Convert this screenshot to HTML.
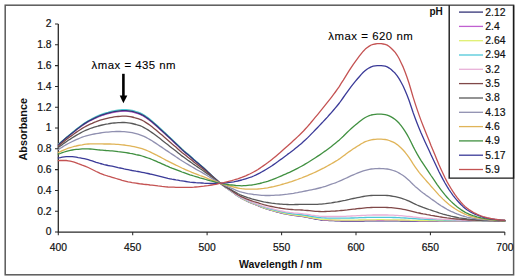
<!DOCTYPE html>
<html><head><meta charset="utf-8"><style>
html,body{margin:0;padding:0;background:#fff;width:519px;height:280px;overflow:hidden}
svg{display:block;font-family:"Liberation Sans",sans-serif}
</style></head><body>
<svg width="519" height="280" viewBox="0 0 519 280" >
<rect width="519" height="280" fill="#fff"/>
<rect x="5.2" y="5.2" width="508.4" height="269.6" fill="none" stroke="#5a5a5a" stroke-width="1.5"/>
<path d="M449.2,5.2 V178.1 H513.6 V5.2" fill="none" stroke="#1a1a1a" stroke-width="1.4"/>
<path d="M58.3,24 V232.1 H504.8" fill="none" stroke="#2a2a2a" stroke-width="1.3"/>
<path d="M55,232.0H58.3M55,211.2H58.3M55,190.4H58.3M55,169.6H58.3M55,148.8H58.3M55,128.0H58.3M55,107.2H58.3M55,86.4H58.3M55,65.6H58.3M55,44.8H58.3M55,24.0H58.3M58.3,232.1V235.3M132.7,232.1V235.3M207.1,232.1V235.3M281.6,232.1V235.3M356.0,232.1V235.3M430.4,232.1V235.3M504.8,232.1V235.3" stroke="#2a2a2a" stroke-width="1.05"/>
<g fill="none" stroke-width="1.3" stroke-linejoin="round" stroke-linecap="round">
<path d="M58.3,145.0L60.3,143.2L62.3,141.4L64.3,139.7L66.3,138.0L68.3,136.3L70.3,134.7L72.3,133.1L74.2,131.6L76.2,130.0L78.2,128.4L80.2,126.9L82.2,125.5L84.2,124.1L86.2,122.9L88.2,121.7L90.2,120.6L92.2,119.6L94.2,118.6L96.2,117.7L98.2,116.8L100.2,116.0L102.2,115.3L104.1,114.6L106.1,114.1L108.1,113.5L110.1,113.0L112.1,112.5L114.1,112.1L116.1,111.8L118.1,111.5L120.1,111.3L122.1,111.1L124.1,111.0L126.1,111.1L128.1,111.2L130.1,111.5L132.1,111.8L134.0,112.3L136.0,112.9L138.0,113.5L140.0,114.2L142.0,115.2L144.0,116.4L146.0,117.7L148.0,119.0L150.0,120.6L152.0,122.2L154.0,123.9L156.0,125.6L158.0,127.4L160.0,129.2L162.0,131.0L163.9,132.8L165.9,134.7L167.9,136.5L169.9,138.3L171.9,140.2L173.9,142.1L175.9,144.0L177.9,145.9L179.9,147.8L181.9,149.6L183.9,151.4L185.9,153.1L187.9,154.8L189.9,156.5L191.9,158.2L193.8,159.8L195.8,161.5L197.8,163.2L199.8,164.9L201.8,166.6L203.8,168.3L205.8,170.2L207.8,172.0L209.8,173.9L211.8,175.7L213.8,177.6L215.8,179.4L217.8,181.2L219.8,182.9" stroke="#E8B0D8"/>
<path d="M58.3,145.0L60.3,143.2L62.3,141.4L64.3,139.7L66.3,138.0L68.3,136.3L70.3,134.7L72.3,133.2L74.2,131.6L76.2,130.1L78.2,128.5L80.2,127.0L82.2,125.6L84.2,124.2L86.2,122.9L88.2,121.8L90.2,120.7L92.2,119.7L94.2,118.7L96.2,117.8L98.2,116.9L100.2,116.1L102.2,115.4L104.1,114.8L106.1,114.2L108.1,113.6L110.1,113.1L112.1,112.7L114.1,112.3L116.1,111.9L118.1,111.6L120.1,111.4L122.1,111.3L124.1,111.2L126.1,111.2L128.1,111.4L130.1,111.6L132.1,111.9L134.0,112.4L136.0,113.1L138.0,113.7L140.0,114.4L142.0,115.3L144.0,116.5L146.0,117.8L148.0,119.2L150.0,120.7L152.0,122.3L154.0,124.0L156.0,125.7L158.0,127.5L160.0,129.3L162.0,131.1L163.9,132.9L165.9,134.8L167.9,136.6L169.9,138.4L171.9,140.3L173.9,142.2L175.9,144.0L177.9,145.9L179.9,147.9L181.9,149.7L183.9,151.5L185.9,153.2L187.9,154.8L189.9,156.5L191.9,158.2L193.8,159.9L195.8,161.6L197.8,163.3L199.8,164.9L201.8,166.6L203.8,168.3L205.8,170.1L207.8,172.0L209.8,173.8L211.8,175.6L213.8,177.5L215.8,179.3L217.8,181.1L219.8,182.9" stroke="#C060D0"/>
<path d="M58.3,144.8L60.3,142.9L62.3,141.1L64.3,139.4L66.3,137.6L68.3,136.0L70.3,134.3L72.3,132.7L74.2,131.1L76.2,129.5L78.2,128.0L80.2,126.4L82.2,124.9L84.2,123.5L86.2,122.2L88.2,121.1L90.2,120.0L92.2,118.9L94.2,117.9L96.2,116.9L98.2,116.1L100.2,115.2L102.2,114.5L104.1,113.8L106.1,113.2L108.1,112.6L110.1,112.1L112.1,111.6L114.1,111.2L116.1,110.8L118.1,110.5L120.1,110.3L122.1,110.1L124.1,110.0L126.1,110.1L128.1,110.2L130.1,110.5L132.1,110.8L134.0,111.3L136.0,111.9L138.0,112.5L140.0,113.3L142.0,114.2L144.0,115.4L146.0,116.7L148.0,118.1L150.0,119.7L152.0,121.3L154.0,123.0L156.0,124.8L158.0,126.6L160.0,128.4L162.0,130.3L163.9,132.1L165.9,133.9L167.9,135.8L169.9,137.6L171.9,139.5L173.9,141.4L175.9,143.3L177.9,145.3L179.9,147.2L181.9,149.1L183.9,150.9L185.9,152.6L187.9,154.3L189.9,156.0L191.9,157.7L193.8,159.5L195.8,161.2L197.8,162.9L199.8,164.6L201.8,166.3L203.8,168.1L205.8,169.9L207.8,171.8L209.8,173.7L211.8,175.5L213.8,177.4L215.8,179.3L217.8,181.1L219.8,182.9" stroke="#E0F070"/>
<path d="M58.3,144.7L60.3,142.8L62.3,141.0L64.3,139.2L66.3,137.5L68.3,135.8L70.3,134.2L72.3,132.5L74.2,130.9L76.2,129.3L78.2,127.7L80.2,126.2L82.2,124.7L84.2,123.3L86.2,122.0L88.2,120.8L90.2,119.7L92.2,118.6L94.2,117.6L96.2,116.6L98.2,115.7L100.2,114.9L102.2,114.1L104.1,113.4L106.1,112.8L108.1,112.3L110.1,111.7L112.1,111.2L114.1,110.8L116.1,110.4L118.1,110.1L120.1,109.9L122.1,109.7L124.1,109.6L126.1,109.7L128.1,109.8L130.1,110.1L132.1,110.4L134.0,110.9L136.0,111.5L138.0,112.1L140.0,112.8L142.0,113.8L144.0,115.0L146.0,116.3L148.0,117.7L150.0,119.3L152.0,120.9L154.0,122.7L156.0,124.4L158.0,126.2L160.0,128.1L162.0,129.9L163.9,131.8L165.9,133.6L167.9,135.5L169.9,137.4L171.9,139.3L173.9,141.2L175.9,143.1L177.9,145.0L179.9,147.0L181.9,148.9L183.9,150.7L185.9,152.4L187.9,154.1L189.9,155.8L191.9,157.6L193.8,159.3L195.8,161.0L197.8,162.7L199.8,164.4L201.8,166.2L203.8,168.0L205.8,169.9L207.8,171.8L209.8,173.7L211.8,175.5L213.8,177.4L215.8,179.3L217.8,181.1L219.8,182.9" stroke="#50C8D8"/>
<path d="M58.3,144.9L60.3,143.1L62.3,141.3L64.3,139.5L66.3,137.8L68.3,136.2L70.3,134.5L72.3,132.9L74.2,131.4L76.2,129.8L78.2,128.2L80.2,126.7L82.2,125.3L84.2,123.9L86.2,122.6L88.2,121.4L90.2,120.3L92.2,119.3L94.2,118.3L96.2,117.4L98.2,116.5L100.2,115.7L102.2,114.9L104.1,114.3L106.1,113.7L108.1,113.1L110.1,112.6L112.1,112.1L114.1,111.7L116.1,111.4L118.1,111.1L120.1,110.9L122.1,110.7L124.1,110.6L126.1,110.6L128.1,110.8L130.1,111.1L132.1,111.4L134.0,111.9L136.0,112.5L138.0,113.1L140.0,113.8L142.0,114.8L144.0,115.9L146.0,117.3L148.0,118.6L150.0,120.2L152.0,121.8L154.0,123.5L156.0,125.3L158.0,127.1L160.0,128.9L162.0,130.7L163.9,132.5L165.9,134.3L167.9,136.2L169.9,138.0L171.9,139.9L173.9,141.8L175.9,143.7L177.9,145.6L179.9,147.5L181.9,149.4L183.9,151.2L185.9,152.9L187.9,154.6L189.9,156.3L191.9,158.0L193.8,159.7L195.8,161.4L197.8,163.1L199.8,164.8L201.8,166.4L203.8,168.2L205.8,170.0L207.8,171.9L209.8,173.7L211.8,175.6L213.8,177.5L215.8,179.3L217.8,181.1L219.8,182.9" stroke="#333377"/>
<path d="M58.3,146.1L60.3,144.5L62.3,142.8L64.3,141.2L66.3,139.6L68.3,138.1L70.3,136.6L72.3,135.2L74.2,133.8L76.2,132.4L78.2,131.0L80.2,129.7L82.2,128.4L84.2,127.2L86.2,126.1L88.2,125.1L90.2,124.1L92.2,123.3L94.2,122.4L96.2,121.7L98.2,120.9L100.2,120.2L102.2,119.6L104.1,119.1L106.1,118.6L108.1,118.1L110.1,117.7L112.1,117.3L114.1,116.9L116.1,116.7L118.1,116.5L120.1,116.3L122.1,116.2L124.1,116.1L126.1,116.2L128.1,116.4L130.1,116.7L132.1,117.0L134.0,117.5L136.0,118.1L138.0,118.7L140.0,119.3L142.0,120.2L144.0,121.3L146.0,122.6L148.0,123.9L150.0,125.3L152.0,126.8L154.0,128.4L156.0,130.0L158.0,131.7L160.0,133.4L162.0,135.1L163.9,136.8L165.9,138.5L167.9,140.2L169.9,141.9L171.9,143.7L173.9,145.4L175.9,147.1L177.9,148.9L179.9,150.7L181.9,152.4L183.9,154.0L185.9,155.6L187.9,157.2L189.9,158.7L191.9,160.3L193.8,161.9L195.8,163.4L197.8,165.0L199.8,166.5L201.8,168.0L203.8,169.6L205.8,171.3L207.8,173.0L209.8,174.6L211.8,176.3L213.8,178.0L215.8,179.7L217.8,181.3L219.8,182.9" stroke="#804848"/>
<path d="M58.3,147.6L60.3,146.0L62.3,144.6L64.3,143.1L66.3,141.7L68.3,140.3L70.3,139.1L72.3,137.8L74.2,136.6L76.2,135.4L78.2,134.2L80.2,133.1L82.2,132.0L84.2,131.0L86.2,130.1L88.2,129.3L90.2,128.5L92.2,127.8L94.2,127.2L96.2,126.6L98.2,126.0L100.2,125.5L102.2,125.0L104.1,124.6L106.1,124.2L108.1,123.9L110.1,123.5L112.1,123.2L114.1,123.0L116.1,122.8L118.1,122.7L120.1,122.6L122.1,122.5L124.1,122.5L126.1,122.7L128.1,122.9L130.1,123.1L132.1,123.5L134.0,124.0L136.0,124.5L138.0,125.1L140.0,125.7L142.0,126.5L144.0,127.6L146.0,128.7L148.0,129.9L150.0,131.2L152.0,132.6L154.0,134.0L156.0,135.5L158.0,137.1L160.0,138.6L162.0,140.2L163.9,141.7L165.9,143.3L167.9,144.8L169.9,146.4L171.9,148.0L173.9,149.5L175.9,151.1L177.9,152.7L179.9,154.3L181.9,155.9L183.9,157.3L185.9,158.7L187.9,160.2L189.9,161.6L191.9,163.0L193.8,164.4L195.8,165.7L197.8,167.1L199.8,168.5L201.8,169.8L203.8,171.2L205.8,172.7L207.8,174.1L209.8,175.6L211.8,177.1L213.8,178.6L215.8,180.1L217.8,181.6L219.8,182.9" stroke="#585858"/>
<path d="M58.3,149.6L60.3,148.3L62.3,147.1L64.3,145.8L66.3,144.6L68.3,143.5L70.3,142.5L72.3,141.5L74.2,140.6L76.2,139.7L78.2,138.8L80.2,138.0L82.2,137.2L84.2,136.5L86.2,135.8L88.2,135.3L90.2,134.8L92.2,134.4L94.2,134.0L96.2,133.6L98.2,133.3L100.2,133.0L102.2,132.7L104.1,132.4L106.1,132.2L108.1,132.1L110.1,131.9L112.1,131.7L114.1,131.6L116.1,131.5L118.1,131.5L120.1,131.5L122.1,131.6L124.1,131.7L126.1,131.8L128.1,132.1L130.1,132.4L132.1,132.7L134.0,133.2L136.0,133.7L138.0,134.2L140.0,134.8L142.0,135.6L144.0,136.4L146.0,137.4L148.0,138.5L150.0,139.6L152.0,140.8L154.0,142.1L156.0,143.4L158.0,144.7L160.0,146.1L162.0,147.4L163.9,148.7L165.9,150.1L167.9,151.4L169.9,152.8L171.9,154.1L173.9,155.4L175.9,156.8L177.9,158.1L179.9,159.5L181.9,160.8L183.9,162.0L185.9,163.2L187.9,164.4L189.9,165.6L191.9,166.8L193.8,167.9L195.8,169.1L197.8,170.2L199.8,171.3L201.8,172.4L203.8,173.6L205.8,174.8L207.8,176.0L209.8,177.2L211.8,178.4L213.8,179.6L215.8,180.8L217.8,181.9L219.8,183.0" stroke="#9090B0"/>
<path d="M58.3,152.6L60.3,151.6L62.3,150.7L64.3,149.8L66.3,149.0L68.3,148.2L70.3,147.6L72.3,147.0L74.2,146.4L76.2,146.0L78.2,145.5L80.2,145.1L82.2,144.8L84.2,144.4L86.2,144.2L88.2,144.0L90.2,143.9L92.2,143.9L94.2,143.9L96.2,143.9L98.2,143.9L100.2,143.9L102.2,143.9L104.1,144.0L106.1,144.0L108.1,144.0L110.1,144.0L112.1,144.1L114.1,144.1L116.1,144.3L118.1,144.4L120.1,144.6L122.1,144.8L124.1,145.0L126.1,145.3L128.1,145.6L130.1,145.9L132.1,146.3L134.0,146.7L136.0,147.1L138.0,147.6L140.0,148.1L142.0,148.7L144.0,149.4L146.0,150.2L148.0,151.0L150.0,151.9L152.0,152.9L154.0,153.8L156.0,154.8L158.0,155.9L160.0,156.9L162.0,158.0L163.9,159.0L165.9,160.1L167.9,161.1L169.9,162.1L171.9,163.1L173.9,164.1L175.9,165.1L177.9,166.0L179.9,167.0L181.9,168.0L183.9,168.9L185.9,169.8L187.9,170.7L189.9,171.5L191.9,172.4L193.8,173.2L195.8,173.9L197.8,174.7L199.8,175.5L201.8,176.2L203.8,176.9L205.8,177.7L207.8,178.6L209.8,179.3L211.8,180.1L213.8,180.9L215.8,181.7L217.8,182.4L219.8,183.1" stroke="#E0B458"/>
<path d="M58.3,154.2L60.3,153.5L62.3,152.7L64.3,152.0L66.3,151.3L68.3,150.8L70.3,150.4L72.3,150.0L74.2,149.7L76.2,149.4L78.2,149.3L80.2,149.1L82.2,148.9L84.2,148.8L86.2,148.8L88.2,148.9L90.2,149.0L92.2,149.2L94.2,149.4L96.2,149.6L98.2,149.8L100.2,150.0L102.2,150.1L104.1,150.3L106.1,150.5L108.1,150.6L110.1,150.8L112.1,150.9L114.1,151.1L116.1,151.3L118.1,151.6L120.1,151.8L122.1,152.1L124.1,152.4L126.1,152.7L128.1,153.0L130.1,153.4L132.1,153.7L134.0,154.1L136.0,154.6L138.0,155.0L140.0,155.4L142.0,156.0L144.0,156.6L146.0,157.3L148.0,158.0L150.0,158.7L152.0,159.5L154.0,160.3L156.0,161.2L158.0,162.1L160.0,162.9L162.0,163.8L163.9,164.7L165.9,165.6L167.9,166.4L169.9,167.3L171.9,168.1L173.9,168.8L175.9,169.6L177.9,170.4L179.9,171.2L181.9,172.0L183.9,172.7L185.9,173.4L187.9,174.1L189.9,174.8L191.9,175.4L193.8,176.0L195.8,176.6L197.8,177.2L199.8,177.8L201.8,178.3L203.8,178.9L205.8,179.5L207.8,180.1L209.8,180.7L211.8,181.2L213.8,181.7L215.8,182.3L217.8,182.8L219.8,183.2" stroke="#409040"/>
<path d="M58.3,157.9L60.3,157.6L62.3,157.2L64.3,156.9L66.3,156.7L68.3,156.6L70.3,156.6L72.3,156.7L74.2,156.9L76.2,157.2L78.2,157.6L80.2,157.9L82.2,158.3L84.2,158.7L86.2,159.2L88.2,159.7L90.2,160.3L92.2,160.9L94.2,161.6L96.2,162.3L98.2,162.9L100.2,163.5L102.2,164.0L104.1,164.6L106.1,165.0L108.1,165.5L110.1,165.8L112.1,166.2L114.1,166.6L116.1,167.1L118.1,167.6L120.1,168.0L122.1,168.4L124.1,168.9L126.1,169.3L128.1,169.7L130.1,170.1L132.1,170.5L134.0,170.8L136.0,171.2L138.0,171.5L140.0,171.9L142.0,172.3L144.0,172.7L146.0,173.1L148.0,173.5L150.0,174.0L152.0,174.4L154.0,174.9L156.0,175.4L158.0,175.9L160.0,176.4L162.0,176.9L163.9,177.4L165.9,177.9L167.9,178.4L169.9,178.8L171.9,179.2L173.9,179.5L175.9,179.9L177.9,180.2L179.9,180.6L181.9,180.9L183.9,181.2L185.9,181.5L187.9,181.8L189.9,182.1L191.9,182.3L193.8,182.5L195.8,182.7L197.8,182.8L199.8,182.9L201.8,183.0L203.8,183.2L205.8,183.3L207.8,183.4L209.8,183.5L211.8,183.5L213.8,183.5L215.8,183.5L217.8,183.4L219.8,183.3" stroke="#3A3A98"/>
<path d="M58.3,160.6L60.3,160.5L62.3,160.5L64.3,160.5L66.3,160.5L68.3,160.8L70.3,161.2L72.3,161.6L74.2,162.1L76.2,162.8L78.2,163.6L80.2,164.3L82.2,165.1L84.2,165.8L86.2,166.7L88.2,167.5L90.2,168.5L92.2,169.5L94.2,170.5L96.2,171.5L98.2,172.4L100.2,173.3L102.2,174.1L104.1,174.9L106.1,175.5L108.1,176.2L110.1,176.7L112.1,177.3L114.1,177.9L116.1,178.5L118.1,179.1L120.1,179.7L122.1,180.3L124.1,180.8L126.1,181.3L128.1,181.8L130.1,182.2L132.1,182.6L134.0,182.9L136.0,183.2L138.0,183.5L140.0,183.8L142.0,184.0L144.0,184.3L146.0,184.5L148.0,184.7L150.0,185.0L152.0,185.2L154.0,185.4L156.0,185.6L158.0,185.9L160.0,186.1L162.0,186.4L163.9,186.6L165.9,186.8L167.9,187.0L169.9,187.1L171.9,187.2L173.9,187.2L175.9,187.3L177.9,187.3L179.9,187.3L181.9,187.4L183.9,187.4L185.9,187.4L187.9,187.4L189.9,187.4L191.9,187.3L193.8,187.2L195.8,187.0L197.8,186.8L199.8,186.6L201.8,186.4L203.8,186.2L205.8,185.9L207.8,185.7L209.8,185.4L211.8,185.0L213.8,184.6L215.8,184.3L217.8,183.8L219.8,183.4" stroke="#C45252"/>
<path d="M219.8,182.9L221.8,184.5L223.7,186.0L225.7,187.4L227.7,188.8L229.7,190.2L231.7,191.6L233.7,193.1L235.7,194.6L237.7,196.0L239.7,197.3L241.7,198.4L243.7,199.5L245.7,200.5L247.7,201.4L249.7,202.3L251.7,203.1L253.6,203.9L255.6,204.7L257.6,205.5L259.6,206.3L261.6,207.1L263.6,207.9L265.6,208.6L267.6,209.2L269.6,209.8L271.6,210.4L273.6,210.9L275.6,211.5L277.6,212.0L279.6,212.6L281.6,213.0L283.5,213.5L285.5,213.9L287.5,214.3L289.5,214.7L291.5,215.0L293.5,215.3L295.5,215.6L297.5,215.8L299.5,216.1L301.5,216.4L303.5,216.7L305.5,217.1L307.5,217.4L309.5,217.8L311.4,218.2L313.4,218.6L315.4,219.0L317.4,219.4L319.4,219.7L321.4,220.0L323.4,220.2L325.4,220.3L327.4,220.4L329.4,220.5L331.4,220.6L333.4,220.7L335.4,220.8L337.4,220.9L339.4,220.9L341.3,221.0L343.3,221.0L345.3,221.1L347.3,221.1L349.3,221.1L351.3,221.1L353.3,221.1L355.3,221.1L357.3,221.1L359.3,221.0L361.3,221.0L363.3,221.0L365.3,220.9L367.3,220.9L369.3,220.9L371.2,220.9L373.2,220.8L375.2,220.8L377.2,220.8L379.2,220.8L381.2,220.8L383.2,220.8L385.2,220.8L387.2,220.8L389.2,220.8L391.2,220.9L393.2,220.9L395.2,220.9L397.2,220.9L399.2,220.9L401.1,221.0L403.1,221.0L405.1,221.0L407.1,221.0L409.1,221.0L411.1,221.0L413.1,221.1L415.1,221.1L417.1,221.1L419.1,221.1L421.1,221.1L423.1,221.1L425.1,221.1L427.1,221.1L429.1,221.1L431.0,221.0L433.0,221.0L435.0,221.0L437.0,221.0L439.0,220.9L441.0,220.9L443.0,220.9L445.0,220.9L447.0,220.8L449.0,220.8L451.0,220.8L453.0,220.8L455.0,220.8L457.0,220.8L459.0,220.8L460.9,220.8L462.9,220.8L464.9,220.8L466.9,220.8L468.9,220.8L470.9,220.8L472.9,220.8L474.9,220.8L476.9,220.8L478.9,220.8L480.9,220.8L482.9,220.8L484.9,220.8L486.9,220.9L488.9,220.9L490.8,220.9L492.8,220.9L494.8,220.9L496.8,220.9L498.8,220.9L500.8,221.0L502.8,221.0L504.8,221.0" stroke="#333377"/>
<path d="M219.8,182.9L221.8,184.4L223.7,185.9L225.7,187.4L227.7,188.8L229.7,190.2L231.7,191.6L233.7,193.0L235.7,194.5L237.7,195.9L239.7,197.2L241.7,198.4L243.7,199.4L245.7,200.4L247.7,201.3L249.7,202.2L251.7,203.0L253.6,203.8L255.6,204.6L257.6,205.3L259.6,206.2L261.6,207.0L263.6,207.7L265.6,208.4L267.6,209.1L269.6,209.7L271.6,210.2L273.6,210.8L275.6,211.3L277.6,211.9L279.6,212.4L281.6,212.9L283.5,213.3L285.5,213.7L287.5,214.1L289.5,214.5L291.5,214.8L293.5,215.1L295.5,215.4L297.5,215.6L299.5,215.9L301.5,216.1L303.5,216.4L305.5,216.8L307.5,217.2L309.5,217.6L311.4,217.9L313.4,218.3L315.4,218.7L317.4,219.1L319.4,219.4L321.4,219.6L323.4,219.8L325.4,220.0L327.4,220.1L329.4,220.2L331.4,220.2L333.4,220.3L335.4,220.4L337.4,220.5L339.4,220.5L341.3,220.6L343.3,220.6L345.3,220.6L347.3,220.6L349.3,220.6L351.3,220.6L353.3,220.6L355.3,220.6L357.3,220.6L359.3,220.5L361.3,220.5L363.3,220.5L365.3,220.4L367.3,220.4L369.3,220.4L371.2,220.3L373.2,220.3L375.2,220.3L377.2,220.3L379.2,220.3L381.2,220.3L383.2,220.3L385.2,220.3L387.2,220.3L389.2,220.3L391.2,220.3L393.2,220.4L395.2,220.4L397.2,220.4L399.2,220.4L401.1,220.5L403.1,220.5L405.1,220.5L407.1,220.6L409.1,220.6L411.1,220.7L413.1,220.7L415.1,220.7L417.1,220.8L419.1,220.8L421.1,220.8L423.1,220.8L425.1,220.8L427.1,220.8L429.1,220.8L431.0,220.8L433.0,220.8L435.0,220.8L437.0,220.8L439.0,220.8L441.0,220.8L443.0,220.8L445.0,220.7L447.0,220.7L449.0,220.7L451.0,220.7L453.0,220.7L455.0,220.7L457.0,220.7L459.0,220.7L460.9,220.7L462.9,220.8L464.9,220.8L466.9,220.8L468.9,220.8L470.9,220.8L472.9,220.8L474.9,220.8L476.9,220.8L478.9,220.8L480.9,220.8L482.9,220.8L484.9,220.8L486.9,220.8L488.9,220.9L490.8,220.9L492.8,220.9L494.8,220.9L496.8,220.9L498.8,220.9L500.8,221.0L502.8,221.0L504.8,221.0" stroke="#C060D0"/>
<path d="M219.8,182.9L221.8,184.5L223.7,186.0L225.7,187.4L227.7,188.8L229.7,190.2L231.7,191.6L233.7,193.0L235.7,194.5L237.7,195.9L239.7,197.2L241.7,198.3L243.7,199.3L245.7,200.3L247.7,201.2L249.7,202.1L251.7,202.9L253.6,203.7L255.6,204.5L257.6,205.2L259.6,206.0L261.6,206.8L263.6,207.6L265.6,208.3L267.6,208.9L269.6,209.5L271.6,210.1L273.6,210.6L275.6,211.2L277.6,211.7L279.6,212.2L281.6,212.7L283.5,213.1L285.5,213.5L287.5,213.9L289.5,214.3L291.5,214.6L293.5,214.9L295.5,215.1L297.5,215.4L299.5,215.6L301.5,215.9L303.5,216.2L305.5,216.5L307.5,216.9L309.5,217.3L311.4,217.7L313.4,218.0L315.4,218.4L317.4,218.7L319.4,219.1L321.4,219.3L323.4,219.5L325.4,219.6L327.4,219.7L329.4,219.8L331.4,219.9L333.4,219.9L335.4,220.0L337.4,220.1L339.4,220.1L341.3,220.1L343.3,220.2L345.3,220.2L347.3,220.2L349.3,220.2L351.3,220.2L353.3,220.2L355.3,220.1L357.3,220.1L359.3,220.0L361.3,220.0L363.3,220.0L365.3,219.9L367.3,219.9L369.3,219.8L371.2,219.8L373.2,219.8L375.2,219.8L377.2,219.7L379.2,219.7L381.2,219.7L383.2,219.7L385.2,219.8L387.2,219.8L389.2,219.8L391.2,219.8L393.2,219.8L395.2,219.9L397.2,219.9L399.2,220.0L401.1,220.0L403.1,220.0L405.1,220.1L407.1,220.2L409.1,220.2L411.1,220.3L413.1,220.3L415.1,220.4L417.1,220.4L419.1,220.5L421.1,220.5L423.1,220.5L425.1,220.6L427.1,220.6L429.1,220.6L431.0,220.6L433.0,220.6L435.0,220.6L437.0,220.6L439.0,220.6L441.0,220.6L443.0,220.6L445.0,220.6L447.0,220.6L449.0,220.6L451.0,220.6L453.0,220.6L455.0,220.6L457.0,220.7L459.0,220.7L460.9,220.7L462.9,220.7L464.9,220.7L466.9,220.7L468.9,220.7L470.9,220.7L472.9,220.8L474.9,220.8L476.9,220.8L478.9,220.8L480.9,220.8L482.9,220.8L484.9,220.8L486.9,220.8L488.9,220.8L490.8,220.9L492.8,220.9L494.8,220.9L496.8,220.9L498.8,220.9L500.8,221.0L502.8,221.0L504.8,221.0" stroke="#E0F070"/>
<path d="M219.8,182.9L221.8,184.4L223.7,185.9L225.7,187.4L227.7,188.8L229.7,190.1L231.7,191.5L233.7,192.9L235.7,194.3L237.7,195.7L239.7,196.9L241.7,198.0L243.7,199.0L245.7,200.0L247.7,200.8L249.7,201.7L251.7,202.5L253.6,203.2L255.6,204.0L257.6,204.7L259.6,205.5L261.6,206.3L263.6,207.0L265.6,207.7L267.6,208.3L269.6,208.8L271.6,209.4L273.6,209.9L275.6,210.4L277.6,210.9L279.6,211.4L281.6,211.8L283.5,212.2L285.5,212.6L287.5,213.0L289.5,213.3L291.5,213.6L293.5,213.8L295.5,214.1L297.5,214.3L299.5,214.5L301.5,214.7L303.5,215.0L305.5,215.3L307.5,215.6L309.5,216.0L311.4,216.3L313.4,216.7L315.4,217.0L317.4,217.3L319.4,217.5L321.4,217.8L323.4,217.9L325.4,218.0L327.4,218.1L329.4,218.1L331.4,218.1L333.4,218.2L335.4,218.2L337.4,218.2L339.4,218.2L341.3,218.2L343.3,218.2L345.3,218.2L347.3,218.1L349.3,218.1L351.3,218.0L353.3,218.0L355.3,217.9L357.3,217.8L359.3,217.7L361.3,217.7L363.3,217.6L365.3,217.5L367.3,217.4L369.3,217.4L371.2,217.3L373.2,217.3L375.2,217.3L377.2,217.3L379.2,217.3L381.2,217.3L383.2,217.3L385.2,217.3L387.2,217.3L389.2,217.3L391.2,217.4L393.2,217.5L395.2,217.5L397.2,217.6L399.2,217.7L401.1,217.8L403.1,217.9L405.1,218.0L407.1,218.1L409.1,218.3L411.1,218.4L413.1,218.6L415.1,218.7L417.1,218.9L419.1,219.0L421.1,219.1L423.1,219.2L425.1,219.3L427.1,219.4L429.1,219.5L431.0,219.5L433.0,219.6L435.0,219.7L437.0,219.8L439.0,219.8L441.0,219.9L443.0,219.9L445.0,220.0L447.0,220.1L449.0,220.1L451.0,220.2L453.0,220.2L455.0,220.3L457.0,220.3L459.0,220.4L460.9,220.4L462.9,220.5L464.9,220.5L466.9,220.5L468.9,220.6L470.9,220.6L472.9,220.6L474.9,220.7L476.9,220.7L478.9,220.7L480.9,220.7L482.9,220.8L484.9,220.8L486.9,220.8L488.9,220.8L490.8,220.8L492.8,220.8L494.8,220.9L496.8,220.9L498.8,220.9L500.8,220.9L502.8,221.0L504.8,221.0" stroke="#50C8D8"/>
<path d="M219.8,182.9L221.8,184.4L223.7,185.9L225.7,187.3L227.7,188.7L229.7,190.0L231.7,191.3L233.7,192.7L235.7,194.1L237.7,195.5L239.7,196.7L241.7,197.7L243.7,198.7L245.7,199.6L247.7,200.5L249.7,201.3L251.7,202.1L253.6,202.8L255.6,203.5L257.6,204.3L259.6,205.0L261.6,205.8L263.6,206.5L265.6,207.1L267.6,207.7L269.6,208.2L271.6,208.7L273.6,209.2L275.6,209.7L277.6,210.1L279.6,210.6L281.6,211.0L283.5,211.4L285.5,211.8L287.5,212.1L289.5,212.4L291.5,212.6L293.5,212.9L295.5,213.1L297.5,213.2L299.5,213.4L301.5,213.6L303.5,213.9L305.5,214.1L307.5,214.4L309.5,214.7L311.4,215.1L313.4,215.4L315.4,215.7L317.4,215.9L319.4,216.2L321.4,216.3L323.4,216.5L325.4,216.5L327.4,216.5L329.4,216.5L331.4,216.5L333.4,216.5L335.4,216.5L337.4,216.5L339.4,216.5L341.3,216.4L343.3,216.4L345.3,216.3L347.3,216.2L349.3,216.1L351.3,216.0L353.3,215.9L355.3,215.8L357.3,215.7L359.3,215.6L361.3,215.5L363.3,215.4L365.3,215.3L367.3,215.2L369.3,215.1L371.2,215.1L373.2,215.0L375.2,215.0L377.2,215.0L379.2,215.0L381.2,215.0L383.2,215.0L385.2,215.0L387.2,215.0L389.2,215.1L391.2,215.2L393.2,215.2L395.2,215.3L397.2,215.4L399.2,215.6L401.1,215.7L403.1,215.9L405.1,216.1L407.1,216.3L409.1,216.5L411.1,216.7L413.1,217.0L415.1,217.2L417.1,217.4L419.1,217.6L421.1,217.8L423.1,218.0L425.1,218.1L427.1,218.3L429.1,218.4L431.0,218.5L433.0,218.7L435.0,218.8L437.0,219.0L439.0,219.1L441.0,219.2L443.0,219.3L445.0,219.4L447.0,219.6L449.0,219.7L451.0,219.7L453.0,219.8L455.0,219.9L457.0,220.0L459.0,220.1L460.9,220.2L462.9,220.3L464.9,220.3L466.9,220.4L468.9,220.4L470.9,220.5L472.9,220.5L474.9,220.6L476.9,220.6L478.9,220.6L480.9,220.7L482.9,220.7L484.9,220.7L486.9,220.7L488.9,220.8L490.8,220.8L492.8,220.8L494.8,220.8L496.8,220.9L498.8,220.9L500.8,220.9L502.8,220.9L504.8,221.0" stroke="#E8B0D8"/>
<path d="M219.8,182.9L221.8,184.3L223.7,185.7L225.7,187.0L227.7,188.3L229.7,189.5L231.7,190.8L233.7,192.1L235.7,193.4L237.7,194.7L239.7,195.8L241.7,196.8L243.7,197.7L245.7,198.6L247.7,199.4L249.7,200.1L251.7,200.8L253.6,201.5L255.6,202.1L257.6,202.7L259.6,203.4L261.6,204.0L263.6,204.7L265.6,205.2L267.6,205.7L269.6,206.1L271.6,206.5L273.6,206.9L275.6,207.3L277.6,207.7L279.6,208.0L281.6,208.3L283.5,208.6L285.5,208.9L287.5,209.1L289.5,209.4L291.5,209.5L293.5,209.7L295.5,209.8L297.5,209.9L299.5,209.9L301.5,210.0L303.5,210.2L305.5,210.3L307.5,210.5L309.5,210.7L311.4,210.9L313.4,211.1L315.4,211.3L317.4,211.4L319.4,211.5L321.4,211.6L323.4,211.6L325.4,211.5L327.4,211.4L329.4,211.3L331.4,211.2L333.4,211.1L335.4,211.0L337.4,210.8L339.4,210.7L341.3,210.5L343.3,210.3L345.3,210.1L347.3,209.9L349.3,209.6L351.3,209.4L353.3,209.2L355.3,209.0L357.3,208.7L359.3,208.5L361.3,208.3L363.3,208.1L365.3,207.9L367.3,207.7L369.3,207.6L371.2,207.5L373.2,207.4L375.2,207.4L377.2,207.3L379.2,207.3L381.2,207.3L383.2,207.4L385.2,207.4L387.2,207.5L389.2,207.6L391.2,207.7L393.2,207.9L395.2,208.1L397.2,208.3L399.2,208.6L401.1,208.9L403.1,209.3L405.1,209.7L407.1,210.1L409.1,210.6L411.1,211.1L413.1,211.6L415.1,212.1L417.1,212.6L419.1,213.0L421.1,213.5L423.1,213.9L425.1,214.2L427.1,214.6L429.1,214.9L431.0,215.3L433.0,215.6L435.0,216.0L437.0,216.3L439.0,216.7L441.0,217.0L443.0,217.3L445.0,217.6L447.0,217.9L449.0,218.1L451.0,218.4L453.0,218.6L455.0,218.8L457.0,219.0L459.0,219.2L460.9,219.4L462.9,219.6L464.9,219.7L466.9,219.8L468.9,220.0L470.9,220.1L472.9,220.2L474.9,220.2L476.9,220.3L478.9,220.4L480.9,220.4L482.9,220.5L484.9,220.6L486.9,220.6L488.9,220.7L490.8,220.7L492.8,220.7L494.8,220.8L496.8,220.8L498.8,220.8L500.8,220.9L502.8,220.9L504.8,220.9" stroke="#804848"/>
<path d="M219.8,182.9L221.8,184.2L223.7,185.4L225.7,186.6L227.7,187.7L229.7,188.9L231.7,190.0L233.7,191.2L235.7,192.3L237.7,193.5L239.7,194.5L241.7,195.4L243.7,196.2L245.7,196.9L247.7,197.6L249.7,198.2L251.7,198.8L253.6,199.3L255.6,199.8L257.6,200.3L259.6,200.8L261.6,201.3L263.6,201.8L265.6,202.2L267.6,202.5L269.6,202.8L271.6,203.1L273.6,203.3L275.6,203.6L277.6,203.8L279.6,204.0L281.6,204.1L283.5,204.3L285.5,204.4L287.5,204.5L289.5,204.6L291.5,204.6L293.5,204.6L295.5,204.5L297.5,204.5L299.5,204.4L301.5,204.4L303.5,204.4L305.5,204.3L307.5,204.4L309.5,204.4L311.4,204.4L313.4,204.4L315.4,204.4L317.4,204.3L319.4,204.2L321.4,204.1L323.4,203.9L325.4,203.7L327.4,203.4L329.4,203.1L331.4,202.9L333.4,202.5L335.4,202.2L337.4,201.9L339.4,201.5L341.3,201.1L343.3,200.7L345.3,200.3L347.3,199.8L349.3,199.4L351.3,198.9L353.3,198.5L355.3,198.1L357.3,197.7L359.3,197.3L361.3,196.9L363.3,196.5L365.3,196.2L367.3,195.9L369.3,195.7L371.2,195.5L373.2,195.4L375.2,195.4L377.2,195.3L379.2,195.3L381.2,195.3L383.2,195.3L385.2,195.4L387.2,195.5L389.2,195.7L391.2,196.0L393.2,196.3L395.2,196.6L397.2,197.1L399.2,197.6L401.1,198.2L403.1,198.8L405.1,199.5L407.1,200.3L409.1,201.2L411.1,202.2L413.1,203.2L415.1,204.1L417.1,205.0L419.1,205.8L421.1,206.6L423.1,207.4L425.1,208.1L427.1,208.8L429.1,209.5L431.0,210.1L433.0,210.8L435.0,211.5L437.0,212.2L439.0,212.9L441.0,213.5L443.0,214.1L445.0,214.6L447.0,215.2L449.0,215.7L451.0,216.2L453.0,216.6L455.0,217.0L457.0,217.4L459.0,217.8L460.9,218.1L462.9,218.4L464.9,218.7L466.9,219.0L468.9,219.2L470.9,219.4L472.9,219.6L474.9,219.7L476.9,219.9L478.9,220.0L480.9,220.1L482.9,220.2L484.9,220.3L486.9,220.4L488.9,220.5L490.8,220.5L492.8,220.6L494.8,220.7L496.8,220.7L498.8,220.8L500.8,220.8L502.8,220.9L504.8,220.9" stroke="#585858"/>
<path d="M219.8,183.0L221.8,184.0L223.7,185.0L225.7,185.8L227.7,186.7L229.7,187.5L231.7,188.4L233.7,189.2L235.7,190.1L237.7,190.9L239.7,191.6L241.7,192.2L243.7,192.7L245.7,193.2L247.7,193.6L249.7,193.9L251.7,194.2L253.6,194.5L255.6,194.7L257.6,194.9L259.6,195.1L261.6,195.3L263.6,195.4L265.6,195.5L267.6,195.5L269.6,195.5L271.6,195.4L273.6,195.3L275.6,195.2L277.6,195.1L279.6,195.0L281.6,194.8L283.5,194.6L285.5,194.4L287.5,194.2L289.5,193.9L291.5,193.6L293.5,193.3L295.5,192.9L297.5,192.6L299.5,192.2L301.5,191.8L303.5,191.4L305.5,191.0L307.5,190.6L309.5,190.2L311.4,189.8L313.4,189.4L315.4,189.0L317.4,188.5L319.4,188.0L321.4,187.5L323.4,186.9L325.4,186.3L327.4,185.6L329.4,184.9L331.4,184.2L333.4,183.5L335.4,182.8L337.4,182.0L339.4,181.2L341.3,180.3L343.3,179.4L345.3,178.5L347.3,177.6L349.3,176.6L351.3,175.7L353.3,174.8L355.3,174.0L357.3,173.2L359.3,172.4L361.3,171.6L363.3,170.9L365.3,170.3L367.3,169.8L369.3,169.3L371.2,169.0L373.2,168.8L375.2,168.6L377.2,168.6L379.2,168.5L381.2,168.6L383.2,168.6L385.2,168.8L387.2,169.0L389.2,169.4L391.2,169.9L393.2,170.5L395.2,171.2L397.2,172.0L399.2,173.1L401.1,174.3L403.1,175.5L405.1,177.0L407.1,178.7L409.1,180.4L411.1,182.5L413.1,184.5L415.1,186.4L417.1,188.1L419.1,189.8L421.1,191.5L423.1,193.0L425.1,194.4L427.1,195.9L429.1,197.3L431.0,198.7L433.0,200.1L435.0,201.5L437.0,203.0L439.0,204.4L441.0,205.7L443.0,206.9L445.0,208.1L447.0,209.3L449.0,210.3L451.0,211.3L453.0,212.2L455.0,213.1L457.0,213.9L459.0,214.6L460.9,215.3L462.9,216.0L464.9,216.5L466.9,217.1L468.9,217.5L470.9,217.9L472.9,218.3L474.9,218.6L476.9,218.9L478.9,219.1L480.9,219.3L482.9,219.6L484.9,219.8L486.9,219.9L488.9,220.0L490.8,220.2L492.8,220.3L494.8,220.4L496.8,220.5L498.8,220.6L500.8,220.7L502.8,220.7L504.8,220.8" stroke="#9090B0"/>
<path d="M219.8,183.1L221.8,183.8L223.7,184.4L225.7,184.9L227.7,185.5L229.7,186.0L231.7,186.5L233.7,187.0L235.7,187.5L237.7,188.0L239.7,188.4L241.7,188.7L243.7,188.9L245.7,189.1L247.7,189.2L249.7,189.2L251.7,189.2L253.6,189.2L255.6,189.1L257.6,189.0L259.6,188.8L261.6,188.6L263.6,188.4L265.6,188.1L267.6,187.8L269.6,187.4L271.6,187.0L273.6,186.6L275.6,186.1L277.6,185.6L279.6,185.1L281.6,184.5L283.5,184.0L285.5,183.4L287.5,182.8L289.5,182.2L291.5,181.6L293.5,180.9L295.5,180.2L297.5,179.5L299.5,178.7L301.5,178.0L303.5,177.2L305.5,176.4L307.5,175.6L309.5,174.7L311.4,173.9L313.4,173.0L315.4,172.1L317.4,171.1L319.4,170.2L321.4,169.2L323.4,168.2L325.4,167.1L327.4,166.0L329.4,164.9L331.4,163.8L333.4,162.6L335.4,161.4L337.4,160.2L339.4,158.9L341.3,157.5L343.3,156.0L345.3,154.6L347.3,153.1L349.3,151.6L351.3,150.2L353.3,148.8L355.3,147.6L357.3,146.3L359.3,145.1L361.3,143.8L363.3,142.7L365.3,141.7L367.3,141.0L369.3,140.3L371.2,139.8L373.2,139.5L375.2,139.3L377.2,139.2L379.2,139.1L381.2,139.2L383.2,139.3L385.2,139.5L387.2,139.8L389.2,140.5L391.2,141.3L393.2,142.2L395.2,143.2L397.2,144.6L399.2,146.2L401.1,148.0L403.1,150.0L405.1,152.3L407.1,154.8L409.1,157.6L411.1,160.7L413.1,163.9L415.1,166.8L417.1,169.6L419.1,172.3L421.1,174.8L423.1,177.1L425.1,179.4L427.1,181.7L429.1,183.9L431.0,186.2L433.0,188.4L435.0,190.6L437.0,192.9L439.0,195.1L441.0,197.1L443.0,199.1L445.0,201.0L447.0,202.7L449.0,204.4L451.0,205.9L453.0,207.4L455.0,208.8L457.0,210.0L459.0,211.2L460.9,212.2L462.9,213.2L464.9,214.1L466.9,215.0L468.9,215.6L470.9,216.3L472.9,216.8L474.9,217.3L476.9,217.8L478.9,218.1L480.9,218.5L482.9,218.8L484.9,219.1L486.9,219.4L488.9,219.6L490.8,219.8L492.8,219.9L494.8,220.1L496.8,220.3L498.8,220.4L500.8,220.5L502.8,220.6L504.8,220.6" stroke="#E0B458"/>
<path d="M219.8,183.2L221.8,183.6L223.7,183.9L225.7,184.2L227.7,184.5L229.7,184.8L231.7,185.0L233.7,185.2L235.7,185.5L237.7,185.6L239.7,185.7L241.7,185.8L243.7,185.7L245.7,185.6L247.7,185.4L249.7,185.2L251.7,185.0L253.6,184.7L255.6,184.3L257.6,183.9L259.6,183.5L261.6,183.0L263.6,182.4L265.6,181.9L267.6,181.3L269.6,180.6L271.6,179.9L273.6,179.1L275.6,178.3L277.6,177.5L279.6,176.7L281.6,175.8L283.5,174.9L285.5,174.1L287.5,173.2L289.5,172.3L291.5,171.3L293.5,170.4L295.5,169.4L297.5,168.4L299.5,167.3L301.5,166.2L303.5,165.1L305.5,163.9L307.5,162.7L309.5,161.5L311.4,160.3L313.4,159.0L315.4,157.7L317.4,156.4L319.4,155.1L321.4,153.7L323.4,152.3L325.4,150.9L327.4,149.4L329.4,147.9L331.4,146.4L333.4,144.8L335.4,143.2L337.4,141.6L339.4,139.9L341.3,138.1L343.3,136.2L345.3,134.2L347.3,132.3L349.3,130.4L351.3,128.5L353.3,126.7L355.3,125.1L357.3,123.4L359.3,121.8L361.3,120.2L363.3,118.8L365.3,117.5L367.3,116.5L369.3,115.7L371.2,115.0L373.2,114.6L375.2,114.4L377.2,114.2L379.2,114.1L381.2,114.2L383.2,114.4L385.2,114.6L387.2,115.1L389.2,115.9L391.2,116.9L393.2,118.1L395.2,119.5L397.2,121.2L399.2,123.3L401.1,125.7L403.1,128.3L405.1,131.3L407.1,134.6L409.1,138.2L411.1,142.3L413.1,146.4L415.1,150.2L417.1,153.9L419.1,157.3L421.1,160.6L423.1,163.7L425.1,166.7L427.1,169.7L429.1,172.6L431.0,175.5L433.0,178.4L435.0,181.3L437.0,184.3L439.0,187.1L441.0,189.8L443.0,192.4L445.0,194.9L447.0,197.2L449.0,199.4L451.0,201.4L453.0,203.3L455.0,205.1L457.0,206.7L459.0,208.2L460.9,209.6L462.9,210.9L464.9,212.1L466.9,213.2L468.9,214.1L470.9,214.9L472.9,215.6L474.9,216.2L476.9,216.8L478.9,217.3L480.9,217.8L482.9,218.2L484.9,218.6L486.9,218.9L488.9,219.2L490.8,219.4L492.8,219.7L494.8,219.9L496.8,220.1L498.8,220.2L500.8,220.4L502.8,220.5L504.8,220.5" stroke="#409040"/>
<path d="M219.8,183.3L221.8,183.2L223.7,183.1L225.7,182.9L227.7,182.6L229.7,182.4L231.7,182.1L233.7,181.8L235.7,181.4L237.7,181.0L239.7,180.5L241.7,180.0L243.7,179.4L245.7,178.8L247.7,178.2L249.7,177.5L251.7,176.8L253.6,176.0L255.6,175.1L257.6,174.1L259.6,173.1L261.6,172.0L263.6,170.9L265.6,169.7L267.6,168.5L269.6,167.3L271.6,166.0L273.6,164.6L275.6,163.2L277.6,161.8L279.6,160.3L281.6,158.9L283.5,157.4L285.5,155.9L287.5,154.4L289.5,153.0L291.5,151.4L293.5,149.9L295.5,148.3L297.5,146.7L299.5,145.1L301.5,143.4L303.5,141.6L305.5,139.8L307.5,137.9L309.5,135.9L311.4,133.9L313.4,131.9L315.4,129.8L317.4,127.7L319.4,125.6L321.4,123.5L323.4,121.4L325.4,119.2L327.4,117.1L329.4,114.8L331.4,112.6L333.4,110.3L335.4,107.9L337.4,105.5L339.4,103.0L341.3,100.3L343.3,97.5L345.3,94.7L347.3,91.9L349.3,89.1L351.3,86.3L353.3,83.8L355.3,81.4L357.3,79.0L359.3,76.7L361.3,74.4L363.3,72.3L365.3,70.5L367.3,69.0L369.3,67.8L371.2,66.8L373.2,66.2L375.2,65.9L377.2,65.7L379.2,65.6L381.2,65.7L383.2,65.9L385.2,66.2L387.2,66.9L389.2,68.1L391.2,69.6L393.2,71.4L395.2,73.3L397.2,75.8L399.2,78.9L401.1,82.3L403.1,86.0L405.1,90.4L407.1,95.3L409.1,100.5L411.1,106.5L413.1,112.5L415.1,118.0L417.1,123.3L419.1,128.3L421.1,133.1L423.1,137.6L425.1,141.9L427.1,146.2L429.1,150.5L431.0,154.8L433.0,159.0L435.0,163.2L437.0,167.5L439.0,171.7L441.0,175.6L443.0,179.4L445.0,183.0L447.0,186.4L449.0,189.6L451.0,192.5L453.0,195.3L455.0,197.9L457.0,200.3L459.0,202.5L460.9,204.5L462.9,206.4L464.9,208.2L466.9,209.7L468.9,211.0L470.9,212.2L472.9,213.2L474.9,214.2L476.9,215.0L478.9,215.7L480.9,216.4L482.9,217.1L484.9,217.6L486.9,218.1L488.9,218.4L490.8,218.8L492.8,219.1L494.8,219.4L496.8,219.7L498.8,219.9L500.8,220.1L502.8,220.2L504.8,220.3" stroke="#3A3A98"/>
<path d="M219.8,183.4L221.8,183.0L223.7,182.6L225.7,182.1L227.7,181.6L229.7,181.1L231.7,180.6L233.7,180.0L235.7,179.4L237.7,178.8L239.7,178.1L241.7,177.4L243.7,176.6L245.7,175.8L247.7,174.9L249.7,174.0L251.7,173.0L253.6,172.0L255.6,170.9L257.6,169.7L259.6,168.4L261.6,167.0L263.6,165.6L265.6,164.2L267.6,162.8L269.6,161.3L271.6,159.7L273.6,158.1L275.6,156.4L277.6,154.7L279.6,153.0L281.6,151.2L283.5,149.5L285.5,147.7L287.5,146.0L289.5,144.2L291.5,142.4L293.5,140.6L295.5,138.8L297.5,136.9L299.5,135.0L301.5,133.0L303.5,131.0L305.5,128.8L307.5,126.6L309.5,124.3L311.4,122.0L313.4,119.6L315.4,117.2L317.4,114.8L319.4,112.3L321.4,109.9L323.4,107.4L325.4,104.9L327.4,102.4L329.4,99.9L331.4,97.3L333.4,94.7L335.4,92.0L337.4,89.2L339.4,86.3L341.3,83.2L343.3,80.1L345.3,76.8L347.3,73.6L349.3,70.4L351.3,67.3L353.3,64.3L355.3,61.6L357.3,58.9L359.3,56.2L361.3,53.6L363.3,51.2L365.3,49.1L367.3,47.5L369.3,46.1L371.2,45.0L373.2,44.3L375.2,44.0L377.2,43.7L379.2,43.6L381.2,43.7L383.2,44.0L385.2,44.3L387.2,45.1L389.2,46.5L391.2,48.2L393.2,50.2L395.2,52.4L397.2,55.3L399.2,58.8L401.1,62.7L403.1,66.9L405.1,72.0L407.1,77.5L409.1,83.5L411.1,90.2L413.1,97.1L415.1,103.4L417.1,109.4L419.1,115.1L421.1,120.6L423.1,125.8L425.1,130.7L427.1,135.7L429.1,140.5L431.0,145.4L433.0,150.2L435.0,155.0L437.0,160.0L439.0,164.8L441.0,169.2L443.0,173.5L445.0,177.7L447.0,181.6L449.0,185.2L451.0,188.5L453.0,191.7L455.0,194.7L457.0,197.4L459.0,199.9L460.9,202.2L462.9,204.4L464.9,206.4L466.9,208.1L468.9,209.6L470.9,210.9L472.9,212.1L474.9,213.2L476.9,214.2L478.9,215.0L480.9,215.8L482.9,216.5L484.9,217.1L486.9,217.7L488.9,218.1L490.8,218.5L492.8,218.8L494.8,219.2L496.8,219.5L498.8,219.8L500.8,220.0L502.8,220.1L504.8,220.2" stroke="#C45252"/>
</g>
<text x="51.6" y="235.3" text-anchor="end" font-size="10.3" fill="#111" stroke="#111" stroke-width="0.2">0</text>
<text x="51.6" y="214.5" text-anchor="end" font-size="10.3" fill="#111" stroke="#111" stroke-width="0.2">0.2</text>
<text x="51.6" y="193.7" text-anchor="end" font-size="10.3" fill="#111" stroke="#111" stroke-width="0.2">0.4</text>
<text x="51.6" y="172.9" text-anchor="end" font-size="10.3" fill="#111" stroke="#111" stroke-width="0.2">0.6</text>
<text x="51.6" y="152.1" text-anchor="end" font-size="10.3" fill="#111" stroke="#111" stroke-width="0.2">0.8</text>
<text x="51.6" y="131.3" text-anchor="end" font-size="10.3" fill="#111" stroke="#111" stroke-width="0.2">1</text>
<text x="51.6" y="110.5" text-anchor="end" font-size="10.3" fill="#111" stroke="#111" stroke-width="0.2">1.2</text>
<text x="51.6" y="89.7" text-anchor="end" font-size="10.3" fill="#111" stroke="#111" stroke-width="0.2">1.4</text>
<text x="51.6" y="68.9" text-anchor="end" font-size="10.3" fill="#111" stroke="#111" stroke-width="0.2">1.6</text>
<text x="51.6" y="48.1" text-anchor="end" font-size="10.3" fill="#111" stroke="#111" stroke-width="0.2">1.8</text>
<text x="51.6" y="27.3" text-anchor="end" font-size="10.3" fill="#111" stroke="#111" stroke-width="0.2">2</text>
<text x="58.3" y="250.9" text-anchor="middle" font-size="10.3" fill="#111" stroke="#111" stroke-width="0.2">400</text>
<text x="132.7" y="250.9" text-anchor="middle" font-size="10.3" fill="#111" stroke="#111" stroke-width="0.2">450</text>
<text x="207.1" y="250.9" text-anchor="middle" font-size="10.3" fill="#111" stroke="#111" stroke-width="0.2">500</text>
<text x="281.6" y="250.9" text-anchor="middle" font-size="10.3" fill="#111" stroke="#111" stroke-width="0.2">550</text>
<text x="356.0" y="250.9" text-anchor="middle" font-size="10.3" fill="#111" stroke="#111" stroke-width="0.2">600</text>
<text x="430.4" y="250.9" text-anchor="middle" font-size="10.3" fill="#111" stroke="#111" stroke-width="0.2">650</text>
<text x="504.8" y="250.9" text-anchor="middle" font-size="10.3" fill="#111" stroke="#111" stroke-width="0.2">700</text>
<text x="280.5" y="268" text-anchor="middle" font-size="10.5" font-weight="bold" fill="#111">Wavelength / nm</text>
<text transform="translate(27.2,129.3) rotate(-90)" text-anchor="middle" font-size="10.8" font-weight="bold" fill="#111">Absorbance</text>
<text x="429.4" y="15.3" font-size="10" font-weight="bold" fill="#111">pH</text>
<path d="M459,12.1H483" stroke="#333377" stroke-width="1.3"/>
<text x="485.3" y="15.5" font-size="10.4" fill="#111" stroke="#111" stroke-width="0.2">2.12</text>
<path d="M459,26.4H483" stroke="#C060D0" stroke-width="1.3"/>
<text x="485.3" y="29.8" font-size="10.4" fill="#111" stroke="#111" stroke-width="0.2">2.4</text>
<path d="M459,40.7H483" stroke="#E0F070" stroke-width="1.3"/>
<text x="485.3" y="44.1" font-size="10.4" fill="#111" stroke="#111" stroke-width="0.2">2.64</text>
<path d="M459,55.0H483" stroke="#50C8D8" stroke-width="1.3"/>
<text x="485.3" y="58.4" font-size="10.4" fill="#111" stroke="#111" stroke-width="0.2">2.94</text>
<path d="M459,69.3H483" stroke="#E8B0D8" stroke-width="1.3"/>
<text x="485.3" y="72.7" font-size="10.4" fill="#111" stroke="#111" stroke-width="0.2">3.2</text>
<path d="M459,83.6H483" stroke="#804848" stroke-width="1.3"/>
<text x="485.3" y="87.0" font-size="10.4" fill="#111" stroke="#111" stroke-width="0.2">3.5</text>
<path d="M459,98.0H483" stroke="#585858" stroke-width="1.3"/>
<text x="485.3" y="101.4" font-size="10.4" fill="#111" stroke="#111" stroke-width="0.2">3.8</text>
<path d="M459,112.3H483" stroke="#9090B0" stroke-width="1.3"/>
<text x="485.3" y="115.7" font-size="10.4" fill="#111" stroke="#111" stroke-width="0.2">4.13</text>
<path d="M459,126.6H483" stroke="#E0B458" stroke-width="1.3"/>
<text x="485.3" y="130.0" font-size="10.4" fill="#111" stroke="#111" stroke-width="0.2">4.6</text>
<path d="M459,140.9H483" stroke="#409040" stroke-width="1.3"/>
<text x="485.3" y="144.3" font-size="10.4" fill="#111" stroke="#111" stroke-width="0.2">4.9</text>
<path d="M459,155.2H483" stroke="#3A3A98" stroke-width="1.3"/>
<text x="485.3" y="158.6" font-size="10.4" fill="#111" stroke="#111" stroke-width="0.2">5.17</text>
<path d="M459,169.5H483" stroke="#C45252" stroke-width="1.3"/>
<text x="485.3" y="172.9" font-size="10.4" fill="#111" stroke="#111" stroke-width="0.2">5.9</text>
<text x="91.6" y="68.5" font-size="11.4" textLength="84" lengthAdjust="spacing" fill="#000" stroke="#000" stroke-width="0.1">λmax = 435 nm</text>
<text x="328.2" y="39.6" font-size="11.4" textLength="84.6" lengthAdjust="spacing" fill="#000" stroke="#000" stroke-width="0.1">λmax = 620 nm</text>
<rect x="122.1" y="73.8" width="2.6" height="23" fill="#000"/>
<path d="M119.7,95.6H127.3L123.4,103.2Z" fill="#000"/>
</svg>
</body></html>
